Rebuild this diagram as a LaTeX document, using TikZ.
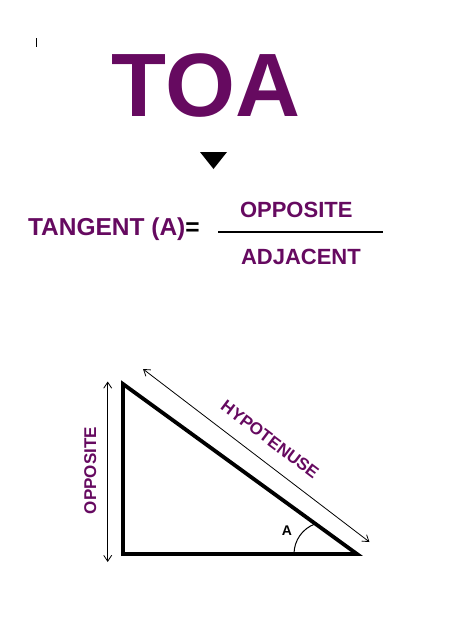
\documentclass[tikz,border=0pt]{standalone}
\usepackage{fontspec}
\setmainfont{Liberation Sans}
\usetikzlibrary{arrows.meta}
\definecolor{toapurple}{RGB}{102,10,96}
\tikzset{
  lbl/.style={inner sep=0pt, outer sep=0pt, text=toapurple, font=\bfseries},
  dimarrow/.style={line width=0.8pt, {Straight Barb[length=6pt,width=8pt]}-{Straight Barb[length=6pt,width=8pt]}},
}
\begin{document}
\begin{tikzpicture}[x=1pt,y=-1pt]
\useasboundingbox (0,0) rectangle (458,630);
% cursor mark
\draw[line width=1pt] (36,38) -- (36,47);
% title
\node[lbl, anchor=base, font=\fontsize{90}{90}\selectfont\bfseries] (toa) at (206,116) {TOA};
% down triangle
\fill (200,152) -- (227,152) -- (213.5,169) -- cycle;
% formula
\node[lbl, anchor=base west, font=\fontsize{24.5}{24.5}\selectfont\bfseries] (tan) at (28,235) {TANGENT (A)\textcolor{black}{=}};
\node[lbl, anchor=base west, font=\fontsize{22}{22}\selectfont\bfseries] (opp) at (240,217) {OPPOSITE};
\node[lbl, anchor=base west, font=\fontsize{22}{22}\selectfont\bfseries] (adj) at (241,264) {ADJACENT};
\coordinate (fl) at (218,232);
\coordinate (fr) at (383,232);
\draw[line width=1.5pt] (fl) -- (fr);
% triangle
\coordinate (tl) at (123,384);
\coordinate (bl) at (123,554);
\coordinate (br) at (357,554);
\draw[line width=3.8pt, line join=miter] (tl) -- (bl) -- (br) -- cycle;
% angle arc
\draw[line width=1pt] (294,554) arc[start angle=180, end angle=110, radius=32pt];
\node[inner sep=0pt, font=\fontsize{14}{14}\selectfont\bfseries] (alab) at (287,531) {A};
% dimension arrows
\coordinate (o1) at (107.7,381.5);
\coordinate (o2) at (107.7,562);
\draw[dimarrow] (o1) -- (o2);
\coordinate (h1) at (143,369);
\coordinate (h2) at (369.5,542);
\draw[dimarrow] (h1) -- (h2);
% side labels
\node[lbl, anchor=base west, rotate=90, font=\fontsize{17}{17}\selectfont\bfseries] (oppside) at (96,514) {OPPOSITE};
\node[lbl, rotate=-37, font=\fontsize{17}{17}\selectfont\bfseries] (hyp) at (270,439.5) {HYPOTENUSE};
\end{tikzpicture}
\end{document}
